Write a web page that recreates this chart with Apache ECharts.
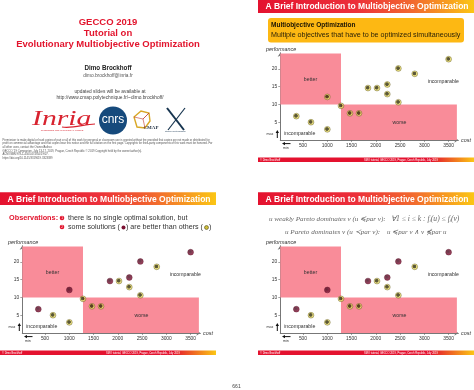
<!DOCTYPE html>
<html><head><meta charset="utf-8">
<style>html,body{margin:0;padding:0;background:#fff}#c{width:474px;height:390px}</style>
<script src="https://cdn.jsdelivr.net/npm/echarts@6/dist/echarts.min.js"></script></head>
<body><div id="c"></div>
<script>
const paretoCost = [363, 1002, 1839, 2237, 2465, 3500];
const paretoPerf = [6.7, 12.1, 14.6, 15.6, 20.1, 22.7];
const otherCost = [665, 1002, 1283, 1468, 1654, 2025, 2237, 2465, 2802];
const otherPerf = [5.0, 3.0, 9.6, 7.5, 7.5, 14.6, 12.9, 10.6, 18.6];
const xTicks = [500, 1000, 1500, 2000, 2500, 3000, 3500];
const yTicks = [5, 10, 15, 20];
const xMin = 33, xMax = 3700, yMin = 0, yMax = 24.5;
const splitCost = 1283, splitPerf = 10;
const panels = [
  {left: 280.3, top: 52.8, dx: 0, dy: 0, twoColours: false},
  {left: 22.3, top: 245.8, dx: -258, dy: 193, twoColours: true},
  {left: 280.3, top: 245.8, dx: 0, dy: 193, twoColours: true}
];
const SANS = '"Liberation Sans",Arial,sans-serif';
const SERIF = '"Liberation Serif",serif';
const PINK = '#f98c99', RED = '#e2142d', INK = '#333';

const zip = (a, b) => a.map((v, i) => [v, b[i]]);
const yellowStyle = {color: {type:'radial',x:.45,y:.45,r:.55,colorStops:[{offset:0,color:'#2a2604'},{offset:.42,color:'#3a3508'},{offset:.62,color:'#e9dc62'},{offset:1,color:'#f2e67c'}]}, borderColor:'#4a4410', borderWidth:.5};
const redStyle = {color: {type:'radial',x:.42,y:.4,r:.62,colorStops:[{offset:0,color:'#3d0a1c'},{offset:.7,color:'#7c1233'},{offset:1,color:'#a32445'}]}, borderColor:'#4a0d20', borderWidth:.5};

const grid = [], xAxis = [], yAxis = [], series = [];
panels.forEach((p, i) => {
  grid.push({left: p.left, top: p.top, width: (xMax - xMin) * 0.04855, height: (yMax - yMin) * 3.56});
  const line = {show: true, lineStyle: {color: '#777', width: 1}, symbol: ['none', 'arrow'], symbolSize: [4, 4]};
  const fmt = v => String(v);
  xAxis.push({type: 'value', gridIndex: i, min: xMin, max: xMax, axisLine: line, splitLine: {show: false},
    axisTick: {show: true, customValues: xTicks, length: 2, lineStyle: {color: '#666', width: .6}},
    axisLabel: {customValues: xTicks, formatter: fmt, fontSize: 4.9, margin: 3.5, color: INK, fontFamily: SANS}});
  yAxis.push({type: 'value', gridIndex: i, min: yMin, max: yMax, axisLine: line, splitLine: {show: false},
    axisTick: {show: true, customValues: yTicks, length: 2, lineStyle: {color: '#666', width: .6}},
    axisLabel: {customValues: yTicks, formatter: fmt, fontSize: 4.9, margin: 3, color: INK, fontFamily: SANS}});
  const areas = {silent: true, itemStyle: {color: PINK, opacity: 1}, data: [
    [{coord: [xMin, splitPerf]}, {coord: [splitCost, yMax - .2]}],
    [{coord: [splitCost, yMin]}, {coord: [xMax - 30, splitPerf]}]
  ]};
  series.push({type: 'scatter', name: 'dominated', xAxisIndex: i, yAxisIndex: i, symbolSize: 5.8, z: 5,
    itemStyle: yellowStyle, data: zip(otherCost, otherPerf), markArea: areas});
  series.push({type: 'scatter', name: 'non-dominated', xAxisIndex: i, yAxisIndex: i, symbolSize: 5.8, z: 5,
    itemStyle: p.twoColours ? redStyle : yellowStyle, data: zip(paretoCost, paretoPerf)});
});

const T = (text, x, y, o = {}) => ({type: 'text', z: o.z || 20, x, y, scaleX: o.sx || 1, style: {text, fontSize: o.s || 5.2, fill: o.c || INK,
  fontFamily: o.f || SANS, fontWeight: o.w || 'normal', fontStyle: o.i ? 'italic' : 'normal',
  align: o.a || 'left', verticalAlign: 'middle'}});
const o0 = 10;
const R = (x, y, w, h, fill, r) => ({type: 'rect', z: o0, shape: {x, y, width: w, height: h, r: r || 0}, style: {fill}});
const barFill = () => ({type: 'linear', x: 0, y: 0, x2: 1, y2: 0, colorStops: [{offset: 0, color: '#e4122f'}, {offset: .45, color: '#ec2f3a'}, {offset: .72, color: '#f26a2e'}, {offset: 1, color: '#fbc614'}]});
const footFill = () => ({type: 'linear', x: 0, y: 0, x2: 1, y2: 0, colorStops: [{offset: 0, color: '#e4122f'}, {offset: .8, color: '#e4122f'}, {offset: 1, color: '#fbc614'}]});
const arrow = (x1, y1, x2, y2) => ({type: 'line', z: 20, shape: {x1, y1, x2, y2}, style: {stroke: '#111', lineWidth: 1}});
const tri = pts => ({type: 'polygon', z: 20, shape: {points: pts}, style: {fill: '#111'}});

const g = [];
panels.forEach(p => {
  const {dx, dy} = p;
  g.push(R(258 + dx, dy === 0 ? 0 : 192.3, 216, dy === 0 ? 13 : 12.7, barFill()));
  g.push(T('A Brief Introduction to Multiobjective Optimization', 265.5 + dx, dy === 0 ? 6.6 : 199.3, {s: 8.5, w: 'bold', c: '#fff'}));
  g.push(R(258 + dx, 157.5 + dy, 216, 4.6, footFill()));
  g.push(T('© Dimo Brockhoff', 260 + dx, 159.8 + dy, {s: 2.6, c: '#fff'}));
  g.push(T('SMO tutorial, GECCO 2019, Prague, Czech Republic, July 2019', 401 + dx, 159.8 + dy, {s: 2.6, c: '#fff', a: 'center'}));
  g.push(T('performance', 266 + dx, 49.3 + dy, {i: 1, s: 5.4}));
  g.push(T('cost', 461 + dx, 140.5 + dy, {i: 1, s: 5.4}));
  g.push(T('better', 310.5 + dx, 79.3 + dy, {a: 'center'}));
  g.push(T('worse', 399.5 + dx, 122.8 + dy, {a: 'center'}));
  g.push(T('incomparable', 443.3 + dx, 82 + dy, {a: 'center'}));
  g.push(T('incomparable', 299.7 + dx, 133.3 + dy, {a: 'center'}));
  g.push(T('max', 270 + dx, 134.4 + dy, {s: 3.6, a: 'center'}));
  g.push(T('min', 285.8 + dx, 148 + dy, {s: 3.6, a: 'center'}));
  g.push(arrow(277.3 + dx, 138 + dy, 277.3 + dx, 132 + dy));
  g.push(tri([[275.6 + dx, 133 + dy], [279 + dx, 133 + dy], [277.3 + dx, 130 + dy]]));
  g.push(arrow(290.5 + dx, 143.6 + dy, 284 + dx, 143.6 + dy));
  g.push(tri([[285 + dx, 142 + dy], [285 + dx, 145.2 + dy], [282 + dx, 143.6 + dy]]));
});

// slide 1: title page
[['GECCO 2019', 22.5], ['Tutorial on', 33], ['Evolutionary Multiobjective Optimization', 44]].forEach(([t, y]) =>
  g.push(T(t, 108, y, {s: 9.5, w: 'bold', c: RED, a: 'center'})));
g.push(T('Dimo Brockhoff', 108, 68, {s: 6.3, w: 'bold', c: '#222', a: 'center'}));
g.push(T('dimo.brockhoff@inria.fr', 108, 75.5, {s: 4.8, c: '#555', a: 'center'}));
g.push(T('updated slides will be available at', 110, 91.7, {s: 4.8, c: '#444', a: 'center'}));
g.push(T('http://www.cmap.polytechnique.fr/~dimo.brockhoff/', 110, 97.5, {s: 4.8, c: '#444', a: 'center'}));
g.push(T('Inria', 32, 119, {s: 22, i: 1, sx: 1.35, f: SERIF, c: '#d8232f'}));
g.push({type: 'bezierCurve', z: 20, shape: {x1: 62, y1: 127, cpx1: 72, cpy1: 129, cpx2: 85, cpy2: 124, x2: 95, y2: 124}, style: {stroke: '#d8232f', lineWidth: 1.2, fill: 'none'}});
g.push(T('INVENTORS FOR THE DIGITAL WORLD', 62, 130.5, {s: 2.3, c: '#d8232f', a: 'center'}));
g.push({type: 'circle', z: 20, shape: {cx: 113, cy: 120.5, r: 14}, style: {fill: '#164a7c'}});
g.push(T('cnrs', 113, 119.5, {s: 12, c: '#fff', a: 'center'}));
g.push({type: 'polygon', z: 20, shape: {points: [[134,117],[141,111],[149,113],[150,121],[145,128],[137,127]]}, style: {fill: '#fff', stroke: '#d9a826', lineWidth: 1.4}});
g.push({type: 'polyline', z: 21, shape: {points: [[134,117],[143,119],[149,113],[143,119],[145,128]]}, style: {stroke: '#c0392b', lineWidth: .6, fill: 'none'}});
g.push(T('CMAP', 151, 127.5, {s: 5, f: SERIF, w: 'bold', c: '#2c3a4c', a: 'center'}));
g.push({type: 'line', z: 20, shape: {x1: 167, y1: 108, x2: 184, y2: 130}, style: {stroke: '#16344f', lineWidth: 2}});
g.push({type: 'line', z: 20, shape: {x1: 185, y1: 108, x2: 168, y2: 130}, style: {stroke: '#16344f', lineWidth: 1.2}});
g.push(T('École polytechnique', 175.5, 131.5, {s: 2.3, c: '#16344f', a: 'center'}));
[['Permission to make digital or hard copies of part or all of this work for personal or classroom use is granted without fee provided that copies are not made or distributed for', 140],
 ['profit or commercial advantage and that copies bear this notice and the full citation on the first page. Copyrights for third-party components of this work must be honored. For', 143.6],
 ['all other uses, contact the Owner/Author.', 147.2],
 ['GECCO \'19 Companion, July 13-17, 2019, Prague, Czech Republic © 2019 Copyright held by the owner/author(s).', 151],
 ['ACM ISBN 978-1-4503-6748-6/19/07.', 154.6],
 ['https://doi.org/10.1145/3319619.3323389', 158.4]].forEach(([t, y]) =>
  g.push(T(t, 2.5, y, {s: 2.75, c: '#555'})));

// slide 2 box
g.push(R(268, 18, 196, 24.6, '#fdb813', 3));
g.push(T('Multiobjective Optimization', 271, 25, {s: 6.5, w: 'bold', c: '#1a1405'}));
g.push(T('Multiple objectives that have to be optimized simultaneously', 271, 35.2, {s: 7.15, c: '#2b2208'}));

// slide 3 text
g.push(T('Observations:', 9, 218, {s: 7.3, w: 'bold', c: RED}));
[218, 227].forEach((y, i) => {
  g.push({type: 'circle', z: 20, shape: {cx: 62, cy: y, r: 2.3}, style: {fill: RED}});
  g.push(T(String(i + 1), 62, y, {s: 3, c: '#fff', a: 'center', z: 21}));
});
g.push(T('there is no single optimal solution, but', 68, 218, {s: 7.15, c: '#333'}));
g.push(T('some solutions (   ) are better than others (   )', 68, 227, {s: 7.15, c: '#333'}));
g.push({type: 'circle', z: 20, shape: {cx: 123.5, cy: 227.5, r: 2}, style: {fill: '#7c1233'}});
g.push({type: 'circle', z: 20, shape: {cx: 206.5, cy: 227.5, r: 2}, style: {fill: '#cdbd3c', stroke: '#3a3608', lineWidth: .5}});

// slide 4 formulas
g.push(T('u weakly Pareto dominates v (u ≼par v):', 269, 219, {s: 7.1, i: 1, f: SERIF, c: '#666'}));
g.push(T('∀1 ≤ i ≤ k : fᵢ(u) ≤ fᵢ(v)', 391, 219, {s: 7.6, i: 1, f: SERIF, c: '#666'}));
g.push(T('u Pareto dominates v (u ≺par v):', 285, 232.6, {s: 7.1, i: 1, f: SERIF, c: '#666'}));
g.push(T('u ≼par v ∧ v ⋠par u', 387, 232.6, {s: 6.9, i: 1, f: SERIF, c: '#666'}));

g.push(T('661', 236.5, 387, {s: 5, c: '#444', a: 'center'}));

const chart = echarts.init(document.getElementById('c'), null, {renderer: 'canvas'});
chart.setOption({animation: false, backgroundColor: '#fff', grid, xAxis, yAxis, series, graphic: {elements: g}});
</script></body></html>
